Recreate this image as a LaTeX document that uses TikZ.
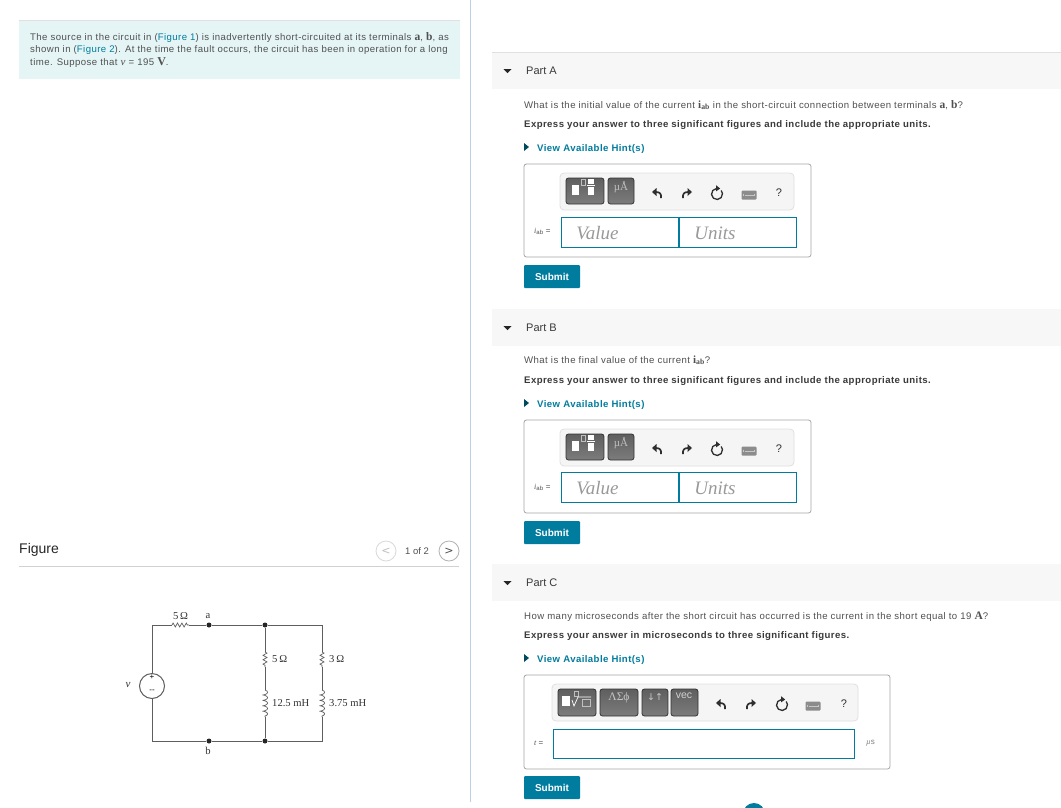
\documentclass[tikz,border=0pt]{standalone}
\usepackage{fontspec}
\setmainfont[LetterSpace=4.4]{Liberation Sans}
\newfontfamily\plainf{Liberation Sans}
\newfontfamily\serf{Liberation Serif}
\newfontfamily\symf{DejaVu Sans}
\usetikzlibrary{calc,positioning,shapes,decorations.pathmorphing}
\definecolor{tealc}{HTML}{007C9E}
\definecolor{txtc}{HTML}{505050}
\definecolor{darkc}{HTML}{3A3A3A}
\definecolor{wirec}{HTML}{5E5E5E}
\definecolor{btntop}{HTML}{5F5F5F}
\definecolor{btnbot}{HTML}{7C7C7C}
\definecolor{icoc}{HTML}{2F2F2F}
\definecolor{infoc}{HTML}{E5F5F6}
\definecolor{divc}{HTML}{BCCFE2}
\newcommand{\mjb}[1]{{\serf\bfseries\fontsize{11.5}{11}\selectfont #1}}
\tikzset{
  txt/.style={anchor=base west,inner sep=0pt,text=txtc,font=\fontsize{9.6}{11}\selectfont},
  bold/.style={txt,text=darkc,font=\fontsize{9.6}{11}\selectfont\bfseries},
  hint/.style={bold,text=tealc},
  parthd/.style={anchor=base west,inner sep=0pt,text=darkc,font=\plainf\fontsize{11}{12}\selectfont},
  panel/.style={draw=black!35,fill=white,rounded corners=2.5pt,line width=.8pt},
  bar/.style={draw=black!12,fill=black!4,rounded corners=4pt,line width=.8pt},
  btn/.style={draw=black!80,top color=btntop,bottom color=btnbot,rounded corners=2.5pt,line width=.8pt},
  inbox/.style={draw=tealc,fill=white,line width=.8pt},
  ghost/.style={anchor=center,inner sep=0pt,text=black!40,font=\serf\itshape\fontsize{19}{19}\selectfont},
  submit/.style={fill=tealc,rounded corners=1pt,minimum width=56pt,minimum height=23pt,inner sep=0pt,
    text=white,font=\plainf\fontsize{10}{12}\selectfont\bfseries},
  wire/.style={draw=wirec,line width=1pt},
  res/.style={wire,line width=.7pt,decorate,decoration={zigzag,segment length=4.4pt,amplitude=2pt}},
  ind/.style={wire,line width=.7pt,decorate,decoration={coil,aspect=.35,segment length=5.4pt,amplitude=2.6pt}},
  jdot/.style={circle,fill=black!85,inner sep=0pt,minimum size=5pt},
  clab/.style={inner sep=0pt,text=black!80,font=\serf\fontsize{10.6}{11}\selectfont},
  undoico/.pic={
    \fill[icoc] (-5,-1) -- (-.5,-5) -- (-.5,3) -- cycle;
    \draw[icoc,line width=1.7pt] (-1,-1) .. controls (3,-1) and (4.5,1) .. (4,5);
  },
  redoico/.pic={
    \fill[icoc] (5,-1) -- (.5,-5) -- (.5,3) -- cycle;
    \draw[icoc,line width=1.7pt] (1,-1) .. controls (-3,-1) and (-4.5,1) .. (-4,5);
  },
  resetico/.pic={
    \draw[icoc,line width=1.3pt] (-95:5.5) arc (-95:-400:5.5);
    \fill[icoc] (-1,-8.8) -- (3.2,-5.5) -- (-1,-2.6) -- cycle;
  },
  keyico/.pic={
    \fill[black!45,rounded corners=1pt] (-7.5,-4.5) rectangle (7.5,4.5);
    \draw[black!22,line width=.6pt] (-4.5,.5) -- (4.5,.5) (-5.5,-1.5) -- (-5.5,.5) (5.5,-1.5) -- (5.5,.5);
  }
}
\begin{document}
\begin{tikzpicture}[x=1pt,y=-1pt]
  \useasboundingbox (0,0) rectangle (1061,807);
  \fill[white] (0,0) rectangle (1061,807);
  % left column
  \draw[draw=divc,line width=1pt] (470,0) -- (470,802);
  \fill[infoc] (19,20) rectangle (460,79);
  \draw[black!12] (19,20.5) -- (460,20.5);
  \node[txt] (intro1) at (30,40.5) {The source in the circuit in ({\color{tealc}Figure 1}) is inadvertently short-circuited at its terminals \mjb{a}, \mjb{b}, as};
  \node[txt] (intro2) at (30,52.5) {shown in ({\color{tealc}Figure 2}). At the time the fault occurs, the circuit has been in operation for a long};
  \node[txt] (intro3) at (30,65.5) {time. Suppose that {\serf\itshape\fontsize{11}{11}\selectfont v} = 195 {\serf\bfseries\fontsize{12}{12}\selectfont V}.};
  \node[anchor=base west,inner sep=0pt,text=black!85,font=\plainf\fontsize{14}{14}\selectfont] (figlab) at (19,553) {Figure};
  \draw[black!18,line width=.8pt] (19,566.5) -- (459,566.5);
  \node[circle,draw=black!15,line width=.8pt,minimum size=20pt,inner sep=0pt,text=black!25,font=\symf\fontsize{11}{11}\selectfont] (prevbtn) at (386,551) {<};
  \node[txt,anchor=center,font=\plainf\fontsize{9.5}{11}\selectfont] (pagelab) at (417,551.5) {1 of 2};
  \node[circle,draw=black!30,line width=.8pt,minimum size=20pt,inner sep=0pt,text=black!70,font=\symf\fontsize{11}{11}\selectfont] (nextbtn) at (449,551) {>};

  % circuit
  \coordinate (tl) at (152,625);
  \coordinate (bl) at (152,741);
  \coordinate (tr) at (322,625);
  \coordinate (br) at (322,741);
  \node[jdot] (a) at (209,625) {};
  \node[jdot] (b) at (209,741) {};
  \node[jdot] (tm) at (265,625) {};
  \node[jdot] (bm) at (265,741) {};
  \node[circle,wire,minimum size=25pt,inner sep=0pt] (src) at (152,686) {};
  \node[inner sep=0pt,font=\plainf\fontsize{8}{8}\selectfont] (plus) at (152,677.5) {+};
  \node[inner sep=0pt,font=\plainf\fontsize{8}{8}\selectfont] (minus) at (152,691.5) {--};
  \coordinate (r1a) at (172,625);
  \coordinate (r1b) at (189,625);
  \coordinate (r2a) at (265,652);
  \coordinate (r2b) at (265,667);
  \coordinate (l2a) at (265,690);
  \coordinate (l2b) at (265,717);
  \coordinate (r3a) at (322,652);
  \coordinate (r3b) at (322,667);
  \coordinate (l3a) at (322,690);
  \coordinate (l3b) at (322,717);
  \draw[wire] (src) -- (tl) -- (r1a);
  \draw[res] (r1a) -- (r1b);
  \draw[wire] (r1b) -- (a) -- (tm) -- (tr) -- (r3a);
  \draw[wire] (src) -- (bl) -- (b) -- (bm) -- (br) -- (l3b);
  \draw[wire] (tm) -- (r2a);
  \draw[res] (r2a) -- (r2b);
  \draw[wire] (r2b) -- (l2a);
  \draw[ind] (l2a) -- (l2b);
  \draw[wire] (l2b) -- (bm);
  \draw[res] (r3a) -- (r3b);
  \draw[wire] (r3b) -- (l3a);
  \draw[ind] (l3a) -- (l3b);
  \node[clab] (r1lab) at (180.5,616) {5\,Ω};
  \node[clab] (alab) at (208,616) {a};
  \node[clab] (blab) at (208,750.5) {b};
  \node[clab,font=\serf\itshape\fontsize{11}{11}\selectfont] (vlab) at (128,685) {v};
  \node[clab,anchor=west] (r2lab) at (272,659.5) {5\,Ω};
  \node[clab,anchor=west] (l2lab) at (272,703) {12.5 mH};
  \node[clab,anchor=west] (r3lab) at (329,659.5) {3\,Ω};
  \node[clab,anchor=west] (l3lab) at (329,703) {3.75 mH};

  % part headers
  \foreach \yy/\pname in {52/A,309/B,564/C}{
    \fill[black!3] (492,\yy) rectangle (1061,\yy+36.5);
    \fill[black!85] (503.5,\yy+17) -- (511.5,\yy+17) -- (507.5,\yy+21) -- cycle;
    \node[parthd] (head\pname) at (526,\yy+22.5) {Part \pname};
  }
  \draw[black!12,line width=.8pt] (492,52.5) -- (1061,52.5);

  % question text
  \node[txt] (qa) at (524,108) {What is the initial value of the current {\serf\bfseries\fontsize{11}{11}\selectfont i\textsubscript{ab}} in the short-circuit connection between terminals \mjb{a}, \mjb{b}?};
  \node[bold] (ea) at (524,127) {Express your answer to three significant figures and include the appropriate units.};
  \node[txt] (qb) at (524,363) {What is the final value of the current {\serf\bfseries\fontsize{11}{11}\selectfont i\textsubscript{ab}}?};
  \node[bold] (eb) at (524,383) {Express your answer to three significant figures and include the appropriate units.};
  \node[txt] (qc) at (524,619) {How many microseconds after the short circuit has occurred is the current in the short equal to 19 \mjb{A}?};
  \node[bold] (ec) at (524,638) {Express your answer in microseconds to three significant figures.};
  \foreach \yy/\pname in {147/A,403/B,658/C}{
    \fill[tealc!60!black] (524,\yy-4) -- (529,\yy) -- (524,\yy+4) -- cycle;
    \node[hint] (hint\pname) at (537,\yy+4) {View Available Hint(s)};
  }

  % answer panels A and B
  \foreach \pname/\dy/\dz in {A/0/0,B/256/255}{
    \begin{scope}[yshift=-\dy pt]
      \draw[panel] (524,164) rectangle (811,257);
      \draw[bar] (560,173) rectangle (794,210);
      \draw[btn] (566,178) rectangle (604,204);
      \draw[btn] (608,178) rectangle (634,204);
      \fill[white] (572,185) rectangle (579,195);
      \draw[black!25,line width=.6pt] (581,179) rectangle (585,185);
      \fill[white] (588,179) rectangle (594,184);
      \fill[white] (588,187) rectangle (594,195);
      \draw[white,line width=.6pt] (587,185.5) -- (595,185.5);
      \node[inner sep=0pt,text=black!25,font=\serf\fontsize{11}{11}\selectfont] (unit\pname) at (621,187.5) {µÅ};
      \pic at (657,193) {undoico};
      \pic at (687,193) {redoico};
      \pic at (717,194) {resetico};
      \pic at (749,195) {keyico};
      \node[inner sep=0pt,text=icoc,font=\plainf\fontsize{11}{11}\selectfont] (help\pname) at (779,193) {?};
      \node[inner sep=0pt,text=txtc,anchor=west,font=\plainf\fontsize{8}{10}\selectfont] (lab\pname) at (534,231.5) {{\serf\itshape i}\textsubscript{ab} =};
      \node[submit] (submit\pname) at (552,276.5) {Submit};
    \end{scope}
    \begin{scope}[yshift=-\dz pt]
      \draw[inbox] (561,217) rectangle (678,247);
      \draw[inbox] (679,217) rectangle (796,247);
      \node[ghost] (value\pname) at (597.5,233.5) {Value};
      \node[ghost] (units\pname) at (715,233.5) {Units};
    \end{scope}
  }

  % answer panel C
  \draw[panel] (524,675) rectangle (890,769);
  \draw[bar] (552,684) rectangle (858,721);
  \foreach \xa/\xb in {558/596,600/638,642/668,671/698}{
    \draw[btn] (\xa,689) rectangle (\xb,716);
  }
  \fill[white] (562,696) rectangle (570,706);
  \draw[black!25,line width=.6pt] (574,691) rectangle (578,696);
  \draw[white,line width=.7pt] (572,700) -- (574,706) -- (578,697) -- (591,697);
  \draw[black!25,line width=.8pt] (582,699) rectangle (590,706);
  \node[inner sep=0pt,text=black!22,font=\serf\fontsize{11.5}{12}\selectfont] (greek) at (619,698) {ΛΣϕ};
  \node[inner sep=0pt,text=black!22,font=\symf\fontsize{9.5}{11}\selectfont] (arrows) at (655,697) {↓↑};
  \node[inner sep=0pt,text=black!18,font=\plainf\fontsize{10.5}{11}\selectfont] (vecbtn) at (684,696) {vec};
  \pic at (721,704) {undoico};
  \pic at (751,704) {redoico};
  \pic at (782,705) {resetico};
  \pic at (813,706) {keyico};
  \node[inner sep=0pt,text=icoc,font=\plainf\fontsize{11}{11}\selectfont] (helpC) at (844,704) {?};
  \node[inner sep=0pt,text=txtc,anchor=west,font=\plainf\fontsize{8}{10}\selectfont] (labC) at (534,743) {{\serf\itshape t} =};
  \draw[inbox] (553,729) rectangle (854,758);
  \node[inner sep=0pt,text=black!50,anchor=west,font=\plainf\fontsize{8}{10}\selectfont] (muC) at (866,743.5) {{\serf\itshape µ}s};
  \node[submit] (submitC) at (552,787.5) {Submit};
  \begin{scope}
    \clip (730,795) rectangle (780,807);
    \fill[tealc] (754,814) circle (11);
  \end{scope}
\end{tikzpicture}
\end{document}
